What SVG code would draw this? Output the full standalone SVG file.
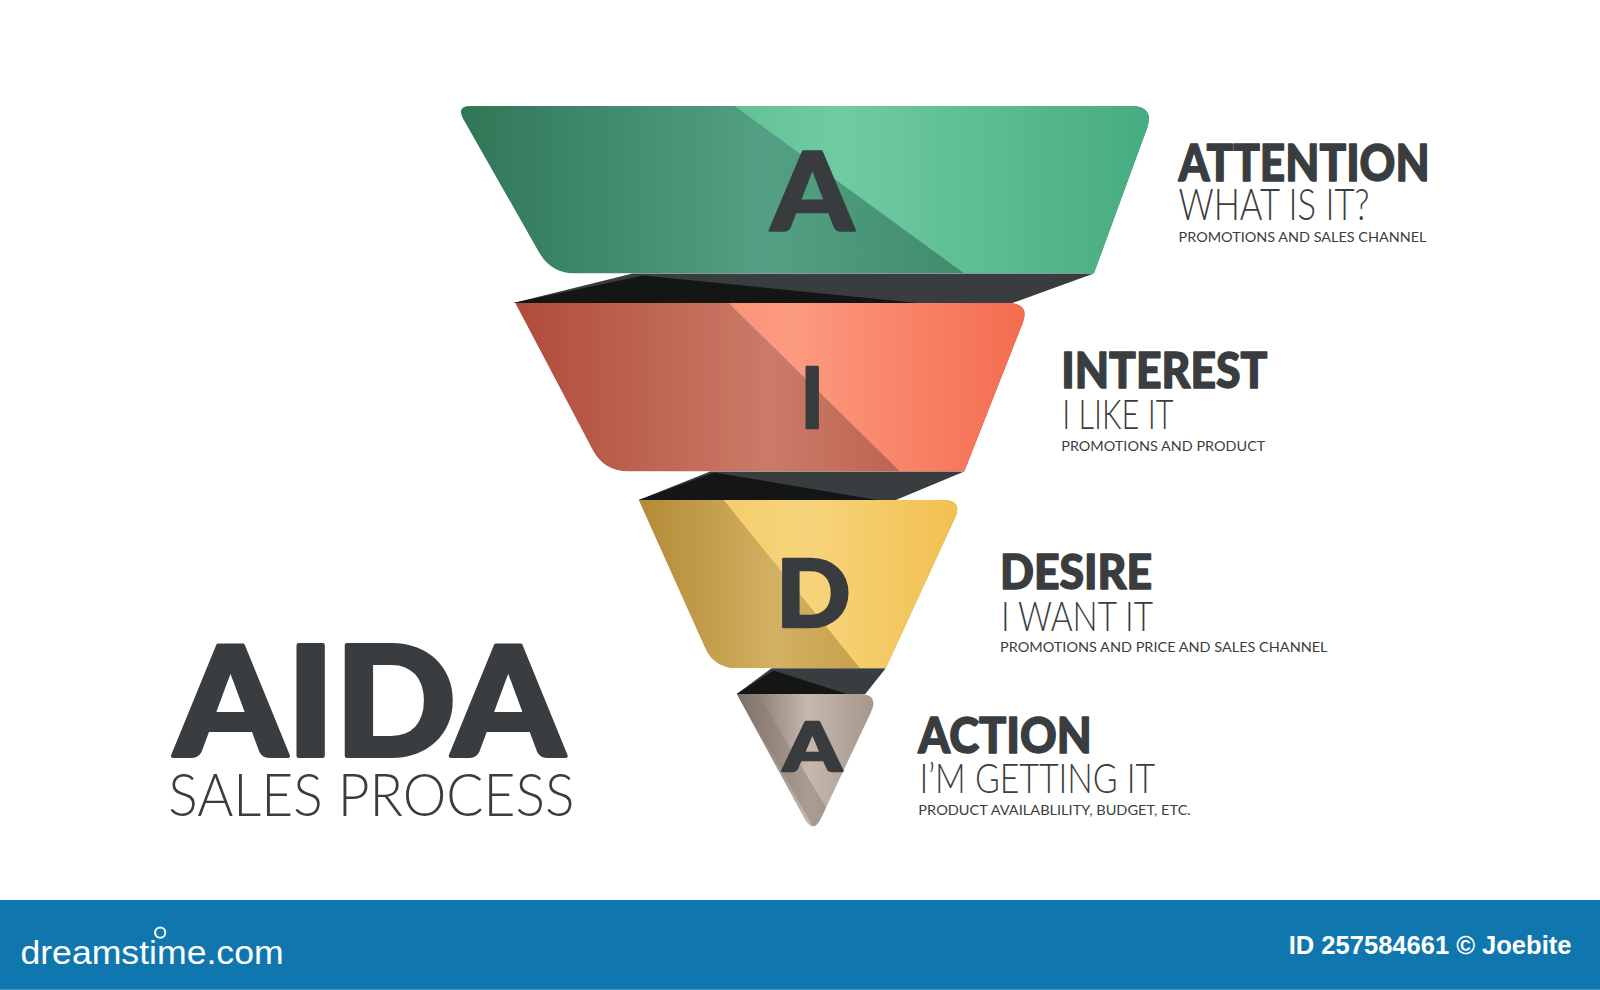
<svg xmlns="http://www.w3.org/2000/svg" width="1600" height="990" viewBox="0 0 1600 990">
<defs>
<style>
.heavy{font-family:Lato,Inter,"Liberation Sans",sans-serif;font-weight:900;fill:#3a3d40;stroke:#3a3d40;stroke-width:1.4;stroke-linejoin:round}
.big{stroke-width:4}
.light{font-family:Lato,Inter,"Liberation Sans",sans-serif;font-weight:300;fill:#3a3d40}
.small{font-family:Lato,Inter,"Liberation Sans",sans-serif;font-weight:400;fill:#3a3d40;font-size:13.5px}
.letter{font-family:Lato,Inter,"Liberation Sans",sans-serif;font-weight:900;fill:#383c3e;stroke:#383c3e;stroke-width:2.5;stroke-linejoin:round;text-anchor:middle}
.band{fill:#3a3d3f}
.blk{fill:#141515}
.foot{font-family:"Liberation Sans",Arial,sans-serif;fill:#ffffff}
</style>
<linearGradient id="gGL" gradientUnits="userSpaceOnUse" x1="450" y1="0" x2="950" y2="0">
<stop offset="0" stop-color="#2f7656"/><stop offset="0.6" stop-color="#54a084"/><stop offset="1" stop-color="#3f8c6b"/>
</linearGradient>
<linearGradient id="gGR" gradientUnits="userSpaceOnUse" x1="720" y1="0" x2="1130" y2="0">
<stop offset="0" stop-color="#62c096"/><stop offset="0.25" stop-color="#70cba4"/><stop offset="1" stop-color="#46ab80"/>
</linearGradient>
<linearGradient id="gRL" gradientUnits="userSpaceOnUse" x1="505" y1="0" x2="890" y2="0">
<stop offset="0" stop-color="#b04b3a"/><stop offset="0.65" stop-color="#cb7b68"/><stop offset="1" stop-color="#bb6350"/>
</linearGradient>
<linearGradient id="gRR" gradientUnits="userSpaceOnUse" x1="714" y1="0" x2="1010" y2="0">
<stop offset="0" stop-color="#fa9378"/><stop offset="0.2" stop-color="#fc9b81"/><stop offset="1" stop-color="#f46b4e"/>
</linearGradient>
<linearGradient id="gYL" gradientUnits="userSpaceOnUse" x1="626" y1="0" x2="850" y2="0">
<stop offset="0" stop-color="#b38a35"/><stop offset="0.6" stop-color="#d3b163"/><stop offset="1" stop-color="#c69f4a"/>
</linearGradient>
<linearGradient id="gYR" gradientUnits="userSpaceOnUse" x1="709" y1="0" x2="944" y2="0">
<stop offset="0" stop-color="#f4cd6c"/><stop offset="0.35" stop-color="#f7d47b"/><stop offset="1" stop-color="#f1bf4f"/>
</linearGradient>
<linearGradient id="gAL" gradientUnits="userSpaceOnUse" x1="722" y1="0" x2="862" y2="0">
<stop offset="0" stop-color="#776860"/><stop offset="0.5" stop-color="#c6b8ad"/><stop offset="1" stop-color="#a29387"/>
</linearGradient>
<clipPath id="cG"><path d="M461,104 L1108,104 Q1132,104 1124,126 L1072,268 L564,268 Q540,268 528.2,247.1 L454,116.5 Q447,104 461,104 Z"/></clipPath>
<clipPath id="cR"><path d="M505,297 L988,297 Q1010,297 1001.9,317.5 L945,462 L616,462 Q592,462 580.8,440.8 Z"/></clipPath>
<clipPath id="cY"><path d="M626,490 L924,490 Q944,490 935.6,508.2 L868,655 L722,655 Q700,655 691,634.9 Z"/></clipPath>
<clipPath id="cA"><path d="M722,680 L842,680 Q862,680 853.5,698.1 L804.7,801.7 Q797,818 788.4,802.2 Z"/></clipPath>
</defs>
<rect x="0" y="0" width="1600" height="990" fill="#ffffff"/>
<g transform="scale(1.020408)">
<g id="connectors">
<polygon class="band" points="503,297 620,268 1072,268 992,297"/>
<polygon class="blk" points="503,297 630,270 900,297"/>
<polygon class="band" points="626,490 696,462 945,462 878,490"/>
<polygon class="blk" points="626,490 700,463 860,490"/>
<polygon class="band" points="722,680 756,655 868,655 848,680"/>
<polygon class="blk" points="722,680 758,657 830,680"/>
</g>
<g id="attention-band">
<g clip-path="url(#cG)">
<rect x="440" y="100" width="700" height="172" fill="url(#gGL)"/>
<polygon points="714.5,100 1140,100 1140,272 950.5,272" fill="url(#gGR)"/>
</g>
<text class="letter" x="796" y="226" font-size="107" textLength="81" lengthAdjust="spacingAndGlyphs">A</text>
</g>
<g id="interest-band">
<g clip-path="url(#cR)">
<rect x="500" y="293" width="515" height="173" fill="url(#gRL)"/>
<polygon points="710,293 1015,293 1015,466 886,466" fill="url(#gRR)"/>
</g>
<text class="letter" x="796" y="419" font-size="83" textLength="22" lengthAdjust="spacingAndGlyphs">I</text>
</g>
<g id="desire-band">
<g clip-path="url(#cY)">
<rect x="620" y="486" width="330" height="173" fill="url(#gYL)"/>
<polygon points="706,486 950,486 950,659 846,659" fill="url(#gYR)"/>
</g>
<text class="letter" x="797" y="614" font-size="91" textLength="73" lengthAdjust="spacingAndGlyphs">D</text>
</g>
<g id="action-band">
<g clip-path="url(#cA)">
<rect x="715" y="676" width="150" height="146" fill="url(#gAL)"/>
<polygon points="722,676 740,676 822,812 802,820" fill="#8a7b72" opacity="0.45"/>
</g>
<text class="letter" x="796" y="756" font-size="66" textLength="57" lengthAdjust="spacingAndGlyphs">A</text>
</g>
<g id="attention-label">
<text class="heavy" x="1155" y="177" font-size="51" textLength="246" lengthAdjust="spacingAndGlyphs">ATTENTION</text>
<text class="light" x="1155" y="216" font-size="42" textLength="187" lengthAdjust="spacingAndGlyphs">WHAT IS IT?</text>
<text class="small" x="1155" y="237" textLength="243" lengthAdjust="spacingAndGlyphs">PROMOTIONS AND SALES CHANNEL</text>
</g>
<g id="interest-label">
<text class="heavy" x="1040" y="380" font-size="48" textLength="202" lengthAdjust="spacingAndGlyphs">INTEREST</text>
<text class="light" x="1041" y="420" font-size="40" textLength="109" lengthAdjust="spacingAndGlyphs">I LIKE IT</text>
<text class="small" x="1040" y="442" textLength="200" lengthAdjust="spacingAndGlyphs">PROMOTIONS AND PRODUCT</text>
</g>
<g id="desire-label">
<text class="heavy" x="980" y="577" font-size="47" textLength="149" lengthAdjust="spacingAndGlyphs">DESIRE</text>
<text class="light" x="981" y="618" font-size="40" textLength="149" lengthAdjust="spacingAndGlyphs">I WANT IT</text>
<text class="small" x="980" y="639" textLength="321" lengthAdjust="spacingAndGlyphs">PROMOTIONS AND PRICE AND SALES CHANNEL</text>
</g>
<g id="action-label">
<text class="heavy" x="900" y="738" font-size="48" textLength="170" lengthAdjust="spacingAndGlyphs">ACTION</text>
<text class="light" x="901" y="777" font-size="40" textLength="231" lengthAdjust="spacingAndGlyphs">I’M GETTING IT</text>
<text class="small" x="900" y="799" textLength="267" lengthAdjust="spacingAndGlyphs">PRODUCT AVAILABLILITY, BUDGET, ETC.</text>
</g>
<g id="title">
<text class="heavy big" x="171" y="741" font-size="150" textLength="382" lengthAdjust="spacingAndGlyphs">AIDA</text>
<text class="light" x="165" y="800" font-size="58" textLength="398" lengthAdjust="spacingAndGlyphs">SALES PROCESS</text>
</g>
<g id="footer">
<rect x="0" y="882" width="1568" height="88" fill="#0f77ae"/>
<circle cx="157" cy="914" r="5" fill="none" stroke="#ffffff" stroke-width="2"/>
<text class="foot" x="20" y="945" font-size="32" textLength="258" lengthAdjust="spacingAndGlyphs">dreamstime.com</text>
<text class="foot" x="1263" y="935" font-size="26" font-weight="700" textLength="277" lengthAdjust="spacingAndGlyphs">ID 257584661 © Joebite</text>
</g>
</g>
</svg>
